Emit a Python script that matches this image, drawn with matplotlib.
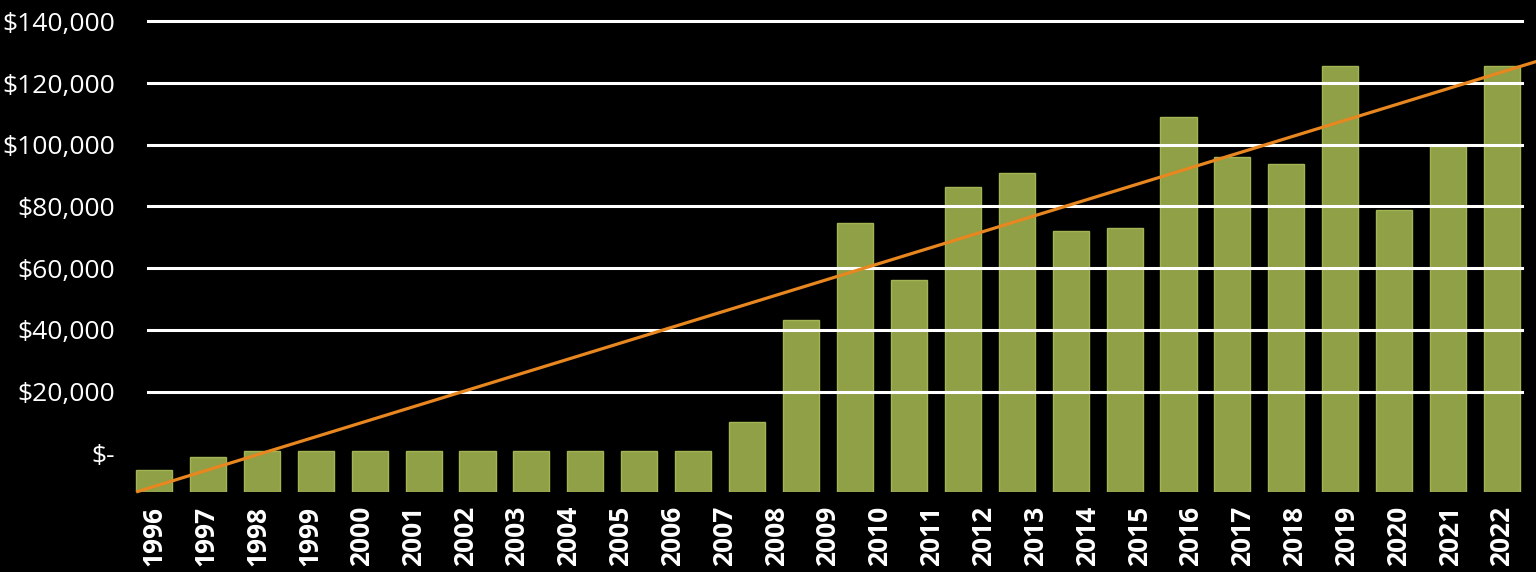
import numpy as np
import matplotlib
matplotlib.use("Agg")
import matplotlib.pyplot as plt
from matplotlib.ticker import FuncFormatter

# year labels along the bottom (27 labels, 26 bars in the picture)
year_labels = [str(y) for y in range(1996, 2023)]

# bar heights in dollars
bar_values = [-5300, -1300, 700, 700, 700, 700, 700, 700, 700, 700, 700,
              10300, 43300, 74800, 56200, 86200, 90800, 71900, 72900,
              108900, 96000, 93900, 125400, 79000, 99700, 125400]

# hand drawn trend line: start / end (bar index, dollars)
trend_x = [-0.33, 25.64]
trend_y = [-12500, 127000]

y_ticks = [0, 20000, 40000, 60000, 80000, 100000, 120000, 140000]
y_min, y_max = -12500, 140000

W, H = 1536, 572
fig = plt.figure(figsize=(W / 100, H / 100), dpi=100)
fig.patch.set_facecolor("black")
ax = fig.add_axes([127 / W, 1 - 492 / H, (1529 - 127) / W, (492 - 21.3) / H])
ax.set_facecolor("black")

x = np.arange(len(bar_values))
vals = np.array(bar_values)
ax.bar(x, vals - y_min, bottom=y_min, width=0.67, color="#8FA047",
       edgecolor="#A2B552", linewidth=1, zorder=2)

# white gridlines (not at zero), drawn over the bars
for v in y_ticks[1:]:
    ax.axhline(v, xmin=(148 - 127) / 1402, xmax=(1522 - 127) / 1402,
               color="white", linewidth=2.2, zorder=3, clip_on=False)

ax.plot(trend_x, trend_y, color="#E8861F", linewidth=2.3, zorder=4,
        clip_on=False, solid_capstyle="butt")

ax.set_xlim(-0.5, 25.5)
ax.set_ylim(y_min, y_max)

ax.set_yticks(y_ticks)
ax.yaxis.set_major_formatter(FuncFormatter(
    lambda v, p: "$-" if v == 0 else "${:,.0f}".format(v)))
ax.set_xticks(np.linspace(0, len(bar_values) - 1, len(year_labels)))
ax.set_xticklabels(year_labels, rotation=90, fontweight="bold")

ax.tick_params(axis="y", length=0, pad=8.6, labelcolor="white", labelsize=19)
ax.tick_params(axis="x", length=0, pad=10, labelcolor="white", labelsize=19)
for lab in ax.get_xticklabels() + ax.get_yticklabels():
    lab.set_family("Open Sans")

for s in ax.spines.values():
    s.set_visible(False)

fig.savefig("out.png", dpi=100, facecolor="black")
